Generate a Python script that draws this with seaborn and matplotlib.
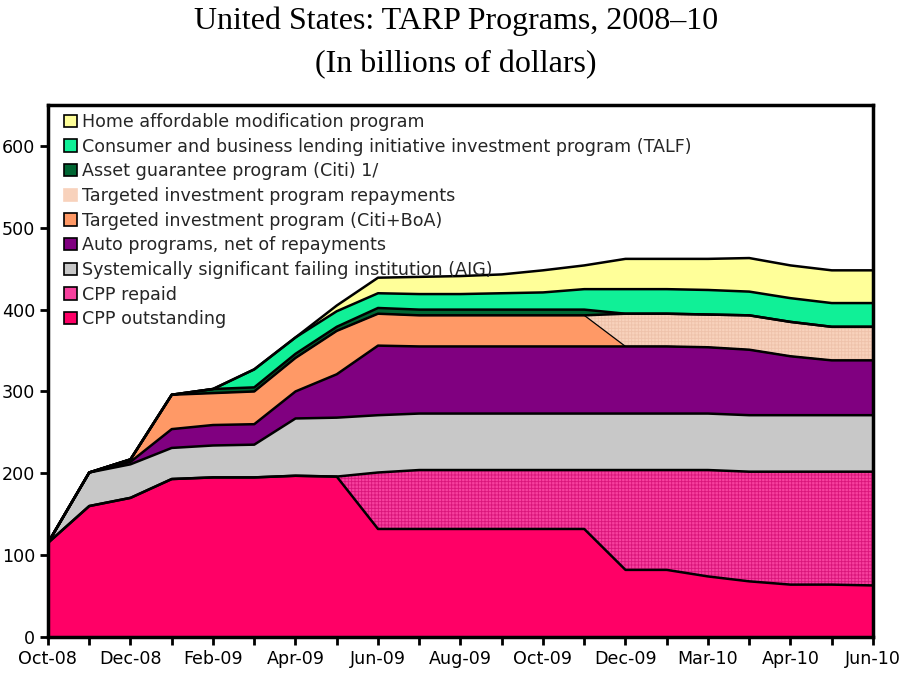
import numpy as np
import matplotlib
matplotlib.use("Agg")
import matplotlib.pyplot as plt
import seaborn as sns
from matplotlib.patches import Patch

# periods on the category axis (only every other one is labelled)
periods = ["Oct-08", "Nov-08", "Dec-08", "Jan-09", "Feb-09", "Mar-09", "Apr-09",
           "May-09", "Jun-09", "Jul-09", "Aug-09", "Sep-09", "Oct-09", "Nov-09",
           "Dec-09", "Feb-10", "Mar-10", "Mar-10b", "Apr-10", "May-10", "Jun-10"]
tick_labels = ["Oct-08", "Dec-08", "Feb-09", "Apr-09", "Jun-09", "Aug-09",
               "Oct-09", "Dec-09", "Mar-10", "Apr-10", "Jun-10"]

# series in billions of dollars, bottom to top of the stack
cpp_outstanding = [115, 160, 170, 193, 195, 195, 197, 196, 132, 132, 132, 132, 132, 132, 82, 82, 74, 68, 64, 64, 63]
cpp_repaid = [0, 0, 0, 0, 0, 0, 0, 0, 69, 72, 72, 72, 72, 72, 122, 122, 130, 134, 138, 138, 139]
aig = [0, 41, 41, 38, 39, 40, 70, 72, 70, 69, 69, 69, 69, 69, 69, 69, 69, 69, 69, 69, 69]
auto = [0, 0, 3, 23, 25, 25, 33, 53, 85, 82, 82, 82, 82, 82, 82, 82, 81, 80, 72, 67, 67]
tip = [0, 0, 3, 42, 39, 40, 41, 53, 39, 38, 38, 38, 38, 38, 0, 0, 0, 0, 0, 0, 0]
tip_repaid = [0, 0, 0, 0, 0, 0, 0, 0, 0, 0, 0, 0, 0, 0, 40, 40, 40, 42, 42, 41, 41]
agp = [0, 0, 0, 0, 5, 5, 5, 5, 7, 7, 7, 7, 7, 7, 0, 0, 0, 0, 0, 0, 0]
talf = [0, 0, 0, 0, 0, 22, 20, 19, 18, 19, 19, 20, 21, 25, 30, 30, 30, 29, 29, 29, 29]
hamp = [0, 0, 0, 0, 0, 0, 0, 7, 19, 21, 22, 23, 27, 29, 37, 37, 38, 41, 40, 40, 40]

labels = ["CPP outstanding", "CPP repaid",
          "Systemically significant failing institution (AIG)",
          "Auto programs, net of repayments",
          "Targeted investment program (Citi+BoA)",
          "Targeted investment program repayments",
          "Asset guarantee program (Citi) 1/",
          "Consumer and business lending initiative investment program (TALF)",
          "Home affordable modification program"]
colors = ["#FF0066", "#F7409E", "#C8C8C8", "#800080", "#FF9966",
          "#F8D2BC", "#006633", "#10F097", "#FFFF99"]
hatches = [None, "+++++", None, None, None, "+++++", None, None, None]
hatch_colors = [None, "#D9157A", None, None, None, "#EEC2AA", None, None, None]

sns.set_theme(style="white")
plt.rcParams["font.family"] = ["DejaVu Sans"]
plt.rcParams["hatch.linewidth"] = 0.6

fig = plt.figure(figsize=(9.12, 6.75), dpi=100)
ax = fig.add_axes([48 / 912, 38 / 675, 825 / 912, 532 / 675])

x = np.arange(len(periods))
series = [cpp_outstanding, cpp_repaid, aig, auto, tip, tip_repaid, agp, talf, hamp]
tops = np.cumsum(np.array(series, dtype=float), axis=0)
bottoms = np.vstack([np.zeros(len(x)), tops[:-1]])

for i in range(len(series)):
    ax.fill_between(x, bottoms[i], tops[i], facecolor=colors[i], edgecolor="none", linewidth=0)
    if hatches[i]:
        ax.fill_between(x, bottoms[i], tops[i], facecolor="none",
                        edgecolor=hatch_colors[i], hatch=hatches[i], linewidth=0)

# black outlines along each layer
for i in range(len(series)):
    lw = 0.9 if i == 4 else 1.8
    sns.lineplot(x=x, y=tops[i], color="black", linewidth=lw, ax=ax,
                 estimator=None, legend=False)

ax.set_xlim(0, len(x) - 1)
ax.set_ylim(0, 650)
ax.set_yticks(range(0, 700, 100))
ax.set_xticks(x)
ax.set_xticklabels([tick_labels[i // 2] if i % 2 == 0 else "" for i in range(len(x))])
ax.set_xlabel("")
ax.set_ylabel("")
for s in ax.spines.values():
    s.set_color("black")
    s.set_linewidth(2.5)
ax.tick_params(axis="both", direction="out", length=6, width=2, color="black",
               labelsize=12.6, labelcolor="black", bottom=True, left=True, pad=3)

# legend, top layer first
handles = []
for i in reversed(range(len(series))):
    ec = colors[i] if i == 5 else "black"
    handles.append(Patch(facecolor=colors[i], edgecolor=ec, linewidth=1.2))
ax.legend(handles, list(reversed(labels)), loc="upper left",
          bbox_to_anchor=(0.02, 0.985), frameon=False, fontsize=12.6,
          handlelength=0.7, handleheight=0.7, handletextpad=0.3,
          labelspacing=0.38, borderaxespad=0, borderpad=0)

fig.text(0.5, 1 - 21 / 675, "United States: TARP Programs, 2008\u201310", ha="center", va="center",
         family=["Liberation Serif"], fontsize=23, color="black")
fig.text(0.5, 1 - 65 / 675, "(In billions of dollars)", ha="center", va="center",
         family=["Liberation Serif"], fontsize=23, color="black")

fig.savefig("out.png", dpi=100)
